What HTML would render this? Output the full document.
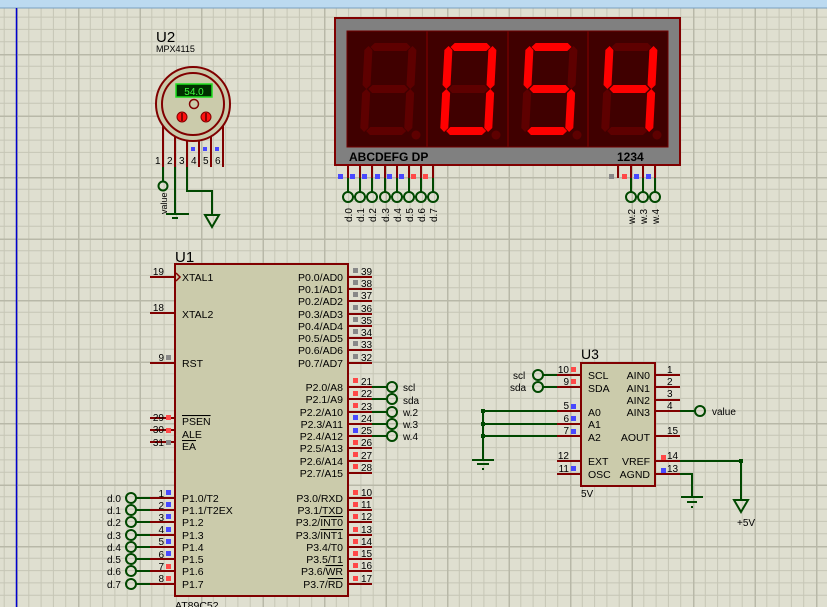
<!DOCTYPE html>
<html><head><meta charset="utf-8"><style>
html,body{margin:0;padding:0;background:#dfdfd0;}
svg{display:block;font-family:"Liberation Sans",sans-serif;}
</style></head><body>
<svg width="827" height="607" viewBox="0 0 827 607" xmlns="http://www.w3.org/2000/svg">
<defs>
<pattern id="g" patternUnits="userSpaceOnUse" x="-45" y="-7.5" width="61.5" height="61.5">
<rect width="61.5" height="61.5" fill="#dfdfd0"/>
<g stroke="#c6c6b6" stroke-width="1">
<path d="M12.3 0V61.5M24.6 0V61.5M36.9 0V61.5M49.2 0V61.5M0 12.3H61.5M0 24.6H61.5M0 36.9H61.5M0 49.2H61.5"/>
</g>
<path d="M0.75 0V61.5M0 0.75H61.5" stroke="#b8b8a8" stroke-width="1.5"/>
</pattern>
<g id="sa"><polygon points="26,43 58,43 62,47 58,51 26,51 22,47"/></g>
<g id="sb"><polygon points="64,46 68,50 68,85 64,89 60,85 60,50"/></g>
<g id="sc"><polygon points="64,89 68,93 68,128 64,132 60,128 60,93"/></g>
<g id="sd"><polygon points="26,127 58,127 62,131 58,135 26,135 22,131"/></g>
<g id="se"><polygon points="20,89 24,93 24,128 20,132 16,128 16,93"/></g>
<g id="sf"><polygon points="20,46 24,50 24,85 20,89 16,85 16,50"/></g>
<g id="sg"><polygon points="26,85 58,85 62,89 58,93 26,93 22,89"/></g>
</defs>
<rect width="827" height="607" fill="url(#g)"/>
<rect x="0" y="0" width="827" height="8" fill="#bcdaf0"/>
<line x1="0" y1="8" x2="827" y2="8" stroke="#7aa0c0"/>
<line x1="16.5" y1="8" x2="16.5" y2="607" stroke="#0000d0" stroke-width="1.5"/>

<!-- ===== 7 SEG DISPLAY ===== -->
<rect x="335" y="18" width="345" height="147" fill="#808080" stroke="#800000" stroke-width="2"/>
<rect x="347" y="31" width="321" height="116" fill="#400000" stroke="#700000" stroke-width="1"/>
<g stroke="#700000" stroke-width="1.5"><line x1="427" y1="31" x2="427" y2="147"/><line x1="508" y1="31" x2="508" y2="147"/><line x1="588" y1="31" x2="588" y2="147"/></g>
<g transform="translate(351,0) skewX(-3)" fill="#5e0000">
 <use href="#sa"/><use href="#sb"/><use href="#sc"/><use href="#sd"/><use href="#se"/><use href="#sf"/><use href="#sg"/>
</g>
<circle cx="416" cy="135" r="4.5" fill="#5e0000"/>
<g transform="translate(431,0) skewX(-3)">
 <g fill="#ff0000"><use href="#sa"/><use href="#sb"/><use href="#sc"/><use href="#sd"/><use href="#se"/><use href="#sf"/></g>
 <g fill="#5e0000"><use href="#sg"/></g>
</g>
<circle cx="496" cy="135" r="4.5" fill="#5e0000"/>
<g transform="translate(512,0) skewX(-3)">
 <g fill="#ff0000"><use href="#sa"/><use href="#sc"/><use href="#sd"/><use href="#sf"/><use href="#sg"/></g>
 <g fill="#5e0000"><use href="#sb"/><use href="#se"/></g>
</g>
<circle cx="577" cy="135" r="4.5" fill="#5e0000"/>
<g transform="translate(592,0) skewX(-3)">
 <g fill="#ff0000"><use href="#sb"/><use href="#sc"/><use href="#sf"/><use href="#sg"/></g>
 <g fill="#5e0000"><use href="#sa"/><use href="#sd"/><use href="#se"/></g>
</g>
<circle cx="657" cy="135" r="4.5" fill="#5e0000"/>
<text x="349" y="161" font-size="12" font-weight="bold" fill="#000">ABCDEFG DP</text>
<text x="617" y="161" font-size="12" font-weight="bold" fill="#000">1234</text>
<g stroke="#800000" stroke-width="2">
<path d="M348 165V178M360 165V178M372 165V178M385 165V178M397 165V178M409 165V178M421 165V178M433 165V178M618 165V178M631 165V178M643 165V178M655 165V178"/>
</g>
<g stroke="#004800" stroke-width="2">
<path d="M348 178V192M360 178V192M372 178V192M385 178V192M397 178V192M409 178V192M421 178V192M433 178V192M631 178V192M643 178V192M655 178V192"/>
</g>
<g fill="#4848ff"><rect x="338" y="174" width="5" height="5"/><rect x="350" y="174" width="5" height="5"/><rect x="362" y="174" width="5" height="5"/><rect x="375" y="174" width="5" height="5"/><rect x="387" y="174" width="5" height="5"/><rect x="399" y="174" width="5" height="5"/><rect x="634" y="174" width="5" height="5"/><rect x="646" y="174" width="5" height="5"/></g>
<g fill="#ff4848"><rect x="411" y="174" width="5" height="5"/><rect x="423" y="174" width="5" height="5"/><rect x="622" y="174" width="5" height="5"/></g>
<rect x="609" y="174" width="5" height="5" fill="#888"/>
<g fill="none" stroke="#004800" stroke-width="2">
<circle cx="348" cy="197" r="5"/><circle cx="360" cy="197" r="5"/><circle cx="372" cy="197" r="5"/><circle cx="385" cy="197" r="5"/><circle cx="397" cy="197" r="5"/><circle cx="409" cy="197" r="5"/><circle cx="421" cy="197" r="5"/><circle cx="433" cy="197" r="5"/>
<circle cx="631" cy="197" r="5"/><circle cx="643" cy="197" r="5"/><circle cx="655" cy="197" r="5"/>
</g>
<g font-size="10" fill="#000">
<text transform="translate(352,222) rotate(-90)">d.0</text>
<text transform="translate(364,222) rotate(-90)">d.1</text>
<text transform="translate(376,222) rotate(-90)">d.2</text>
<text transform="translate(389,222) rotate(-90)">d.3</text>
<text transform="translate(401,222) rotate(-90)">d.4</text>
<text transform="translate(413,222) rotate(-90)">d.5</text>
<text transform="translate(425,222) rotate(-90)">d.6</text>
<text transform="translate(437,222) rotate(-90)">d.7</text>
<text transform="translate(635,224) rotate(-90)">w.2</text>
<text transform="translate(647,224) rotate(-90)">w.3</text>
<text transform="translate(659,224) rotate(-90)">w.4</text>
</g>

<!-- ===== U2 ===== -->
<text x="156" y="42" font-size="15" fill="#000">U2</text>
<text x="156" y="52" font-size="9" fill="#000">MPX4115</text>
<g stroke="#800000" stroke-width="2">
<path d="M163 126V167M175 136V167M187 141V167M199 141V167M211 136V167M223 126V167"/>
</g>
<circle cx="193" cy="104" r="37" fill="#cbcbab" stroke="#800000" stroke-width="2"/>
<circle cx="193" cy="104" r="31" fill="#cbcbab" stroke="#800000" stroke-width="2"/>
<rect x="176" y="84" width="36" height="13" fill="#003000" stroke="#20e020" stroke-width="1.5"/>
<text x="194" y="95" font-size="10" fill="#40ff40" text-anchor="middle">54.0</text>
<circle cx="194" cy="104" r="4.5" fill="none" stroke="#800000" stroke-width="1.5"/>
<circle cx="182" cy="117" r="5" fill="#ff1010" stroke="#800000"/>
<circle cx="206" cy="117" r="5" fill="#ff1010" stroke="#800000"/>
<path d="M182 113V121M206 113V121" stroke="#600000" stroke-width="1.5"/>
<g fill="#4848ff"><rect x="191" y="147" width="4" height="4"/><rect x="203" y="147" width="4" height="4"/><rect x="215" y="147" width="4" height="4"/></g>
<g font-size="10" fill="#000">
<text x="155" y="164">1</text><text x="167" y="164">2</text><text x="179" y="164">3</text><text x="191" y="164">4</text><text x="203" y="164">5</text><text x="215" y="164">6</text>
</g>
<g stroke="#004800" stroke-width="2" fill="none">
<path d="M163 167V182"/>
<circle cx="163" cy="186" r="4.5"/>
<path d="M175 167V214M166 214H189M172 218H178"/>
<path d="M187 167V191H212V215"/>
<path d="M205 215H219L212 227Z"/>
</g>
<text transform="translate(167,214) rotate(-90)" font-size="9" fill="#000">value</text>

<!-- ===== U1 ===== -->
<text x="175" y="262" font-size="15" fill="#000">U1</text>
<rect x="175" y="264" width="173" height="332" fill="#cbcbab" stroke="#800000" stroke-width="2"/>
<g stroke="#800000" stroke-width="2">
<path d="M150 277H175M150 313H175M150 363H175M150 418H175M150 430H175M150 442H175"/>
<path d="M150 498H175M150 510H175M150 522H175M150 535H175M150 547H175M150 559H175M150 571H175M150 584H175"/>
<path d="M348 277H372M348 289H372M348 301H372M348 314H372M348 326H372M348 338H372M348 350H372M348 363H372"/>
<path d="M348 387H372M348 399H372M348 412H372M348 424H372M348 436H372M348 448H372M348 461H372M348 473H372"/>
<path d="M348 498H372M348 510H372M348 522H372M348 535H372M348 547H372M348 559H372M348 571H372M348 584H372"/>
</g>
<path d="M176 273L180 277L176 281" fill="none" stroke="#800000" stroke-width="1.5"/>
<g font-size="10" fill="#000" text-anchor="end">
<text x="164" y="275">19</text><text x="164" y="311">18</text><text x="164" y="361">9</text><text x="164" y="421">29</text><text x="164" y="433">30</text><text x="164" y="446">31</text>
<text x="164" y="497">1</text><text x="164" y="509">2</text><text x="164" y="521">3</text><text x="164" y="533">4</text><text x="164" y="545">5</text><text x="164" y="558">6</text><text x="164" y="570">7</text><text x="164" y="582">8</text>
</g>
<g fill="#888"><rect x="166" y="355" width="5" height="5"/><rect x="166" y="440" width="5" height="5"/></g>
<g fill="#ff4848"><rect x="166" y="415" width="5" height="5"/><rect x="166" y="428" width="5" height="5"/><rect x="166" y="564" width="5" height="5"/><rect x="166" y="576" width="5" height="5"/></g>
<g fill="#4848ff"><rect x="166" y="490" width="5" height="5"/><rect x="166" y="502" width="5" height="5"/><rect x="166" y="514" width="5" height="5"/><rect x="166" y="527" width="5" height="5"/><rect x="166" y="539" width="5" height="5"/><rect x="166" y="551" width="5" height="5"/></g>
<g font-size="10" fill="#000">
<text x="361" y="275">39</text><text x="361" y="287">38</text><text x="361" y="299">37</text><text x="361" y="312">36</text><text x="361" y="324">35</text><text x="361" y="336">34</text><text x="361" y="348">33</text><text x="361" y="361">32</text>
<text x="361" y="385">21</text><text x="361" y="397">22</text><text x="361" y="410">23</text><text x="361" y="422">24</text><text x="361" y="434">25</text><text x="361" y="446">26</text><text x="361" y="459">27</text><text x="361" y="471">28</text>
<text x="361" y="496">10</text><text x="361" y="508">11</text><text x="361" y="520">12</text><text x="361" y="533">13</text><text x="361" y="545">14</text><text x="361" y="557">15</text><text x="361" y="569">16</text><text x="361" y="582">17</text>
</g>
<g fill="#888"><rect x="353" y="268" width="5" height="5"/><rect x="353" y="280" width="5" height="5"/><rect x="353" y="292" width="5" height="5"/><rect x="353" y="305" width="5" height="5"/><rect x="353" y="317" width="5" height="5"/><rect x="353" y="329" width="5" height="5"/><rect x="353" y="341" width="5" height="5"/><rect x="353" y="354" width="5" height="5"/></g>
<g fill="#ff4848"><rect x="353" y="378" width="5" height="5"/><rect x="353" y="391" width="5" height="5"/><rect x="353" y="403" width="5" height="5"/><rect x="353" y="440" width="5" height="5"/><rect x="353" y="452" width="5" height="5"/><rect x="353" y="464" width="5" height="5"/>
<rect x="353" y="490" width="5" height="5"/><rect x="353" y="502" width="5" height="5"/><rect x="353" y="514" width="5" height="5"/><rect x="353" y="527" width="5" height="5"/><rect x="353" y="539" width="5" height="5"/><rect x="353" y="551" width="5" height="5"/><rect x="353" y="563" width="5" height="5"/><rect x="353" y="576" width="5" height="5"/></g>
<g fill="#4848ff"><rect x="353" y="415" width="5" height="5"/><rect x="353" y="428" width="5" height="5"/></g>
<g font-size="10.5" fill="#000">
<text x="182" y="281">XTAL1</text><text x="182" y="318">XTAL2</text><text x="182" y="367">RST</text>
<text x="182" y="425" text-decoration="overline">PSEN</text><text x="182" y="438">ALE</text><text x="182" y="450" text-decoration="overline">EA</text>
<text x="182" y="502">P1.0/T2</text><text x="182" y="514">P1.1/T2EX</text><text x="182" y="526">P1.2</text><text x="182" y="539">P1.3</text><text x="182" y="551">P1.4</text><text x="182" y="563">P1.5</text><text x="182" y="575">P1.6</text><text x="182" y="588">P1.7</text>
</g>
<g font-size="10.5" fill="#000" text-anchor="end">
<text x="343" y="281">P0.0/AD0</text><text x="343" y="293">P0.1/AD1</text><text x="343" y="305">P0.2/AD2</text><text x="343" y="318">P0.3/AD3</text><text x="343" y="330">P0.4/AD4</text><text x="343" y="342">P0.5/AD5</text><text x="343" y="354">P0.6/AD6</text><text x="343" y="367">P0.7/AD7</text>
<text x="343" y="391">P2.0/A8</text><text x="343" y="403">P2.1/A9</text><text x="343" y="416">P2.2/A10</text><text x="343" y="428">P2.3/A11</text><text x="343" y="440">P2.4/A12</text><text x="343" y="452">P2.5/A13</text><text x="343" y="465">P2.6/A14</text><text x="343" y="477">P2.7/A15</text>
<text x="343" y="502">P3.0/RXD</text><text x="343" y="514">P3.1/TXD</text><text x="343" y="526">P3.2/<tspan text-decoration="overline">INT0</tspan></text><text x="343" y="539">P3.3/<tspan text-decoration="overline">INT1</tspan></text><text x="343" y="551">P3.4/T0</text><text x="343" y="563">P3.5/T1</text><text x="343" y="575">P3.6/<tspan text-decoration="overline">WR</tspan></text><text x="343" y="588">P3.7/<tspan text-decoration="overline">RD</tspan></text>
</g>
<text x="175" y="609" font-size="10.5" fill="#000">AT89C52</text>
<g stroke="#004800" stroke-width="2" fill="none">
<path d="M372 387H387M372 399H387M372 412H387M372 424H387M372 436H387"/>
<circle cx="392" cy="387" r="5"/><circle cx="392" cy="399" r="5"/><circle cx="392" cy="412" r="5"/><circle cx="392" cy="424" r="5"/><circle cx="392" cy="436" r="5"/>
<path d="M136 498H150M136 510H150M136 522H150M136 535H150M136 547H150M136 559H150M136 571H150M136 584H150"/>
<circle cx="131" cy="498" r="5"/><circle cx="131" cy="510" r="5"/><circle cx="131" cy="522" r="5"/><circle cx="131" cy="535" r="5"/><circle cx="131" cy="547" r="5"/><circle cx="131" cy="559" r="5"/><circle cx="131" cy="571" r="5"/><circle cx="131" cy="584" r="5"/>
</g>
<g font-size="10" fill="#000">
<text x="403" y="391">scl</text><text x="403" y="404">sda</text><text x="403" y="416">w.2</text><text x="403" y="428">w.3</text><text x="403" y="440">w.4</text>
<text x="107" y="502">d.0</text><text x="107" y="514">d.1</text><text x="107" y="526">d.2</text><text x="107" y="539">d.3</text><text x="107" y="551">d.4</text><text x="107" y="563">d.5</text><text x="107" y="575">d.6</text><text x="107" y="588">d.7</text>
</g>

<!-- ===== U3 ===== -->
<text x="581" y="359" font-size="14" fill="#000">U3</text>
<rect x="581" y="363" width="74" height="123" fill="#cbcbab" stroke="#800000" stroke-width="2"/>
<g stroke="#800000" stroke-width="2">
<path d="M557 375H581M557 387H581M557 411H581M557 424H581M557 436H581M557 461H581M557 474H581"/>
<path d="M655 375H680M655 387H680M655 400H680M655 411H680M655 436H680M655 461H680M655 474H680"/>
</g>
<g font-size="10" fill="#000" text-anchor="end">
<text x="569" y="373">10</text><text x="569" y="385">9</text><text x="569" y="409">5</text><text x="569" y="422">6</text><text x="569" y="434">7</text><text x="569" y="459">12</text><text x="569" y="472">11</text>
</g>
<g fill="#ff4848"><rect x="571" y="367" width="5" height="5"/><rect x="571" y="379" width="5" height="5"/><rect x="661" y="455" width="5" height="5"/></g>
<g fill="#4848ff"><rect x="571" y="404" width="5" height="5"/><rect x="571" y="416" width="5" height="5"/><rect x="571" y="429" width="5" height="5"/><rect x="571" y="466" width="5" height="5"/><rect x="661" y="468" width="5" height="5"/></g>
<g font-size="10" fill="#000">
<text x="667" y="373">1</text><text x="667" y="385">2</text><text x="667" y="397">3</text><text x="667" y="409">4</text><text x="667" y="434">15</text><text x="667" y="459">14</text><text x="667" y="472">13</text>
</g>
<g font-size="10.5" fill="#000">
<text x="588" y="379">SCL</text><text x="588" y="392">SDA</text><text x="588" y="416">A0</text><text x="588" y="428">A1</text><text x="588" y="441">A2</text><text x="588" y="465">EXT</text><text x="588" y="478">OSC</text>
</g>
<g font-size="10.5" fill="#000" text-anchor="end">
<text x="650" y="379">AIN0</text><text x="650" y="392">AIN1</text><text x="650" y="404">AIN2</text><text x="650" y="416">AIN3</text><text x="650" y="441">AOUT</text><text x="650" y="465">VREF</text><text x="650" y="478">AGND</text>
</g>
<text x="581" y="497" font-size="10" fill="#000">5V</text>
<g stroke="#004800" stroke-width="2" fill="none">
<path d="M543 375H557M543 387H557"/>
<circle cx="538" cy="375" r="5"/><circle cx="538" cy="387" r="5"/>
<path d="M483 411H557M483 424H557M483 436H557M483 411V460M472 460H494M477 464H489M482 469H484"/>
<path d="M680 411H695"/><circle cx="700" cy="411" r="5"/>
<path d="M680 461H741V500M734 500H748L741 512Z"/>
<path d="M680 474H692V497M681 497H703M687 502H697M691 507H693"/>
</g>
<g fill="#004800"><rect x="481" y="409" width="4" height="4"/><rect x="481" y="422" width="4" height="4"/><rect x="481" y="434" width="4" height="4"/><rect x="739" y="459" width="4" height="4"/></g>
<g font-size="10" fill="#000">
<text x="513" y="379">scl</text><text x="510" y="391">sda</text><text x="712" y="415">value</text><text x="737" y="526">+5V</text>
</g>
</svg>
</body></html>
